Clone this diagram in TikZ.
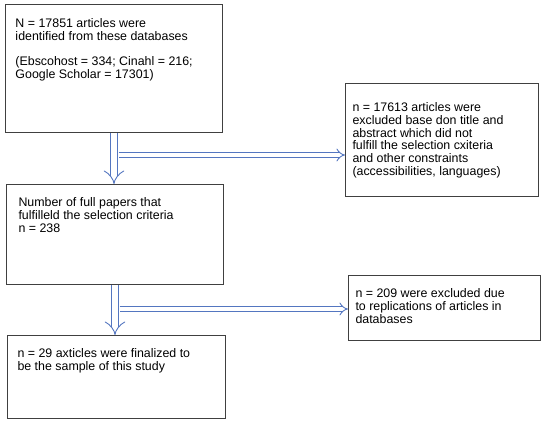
\documentclass[tikz,border=0pt]{standalone}
\usepackage{fontspec}
\setmainfont{Liberation Sans}
\usepackage{tikz}
\usetikzlibrary{arrows.meta, calc}
\definecolor{flowblue}{RGB}{84, 118, 192}
\definecolor{boxgray}{RGB}{64, 64, 64}

\begin{document}
\begin{tikzpicture}[
    x=1pt, y=-1pt,
    stage/.style={rectangle, draw=boxgray, line width=1pt, anchor=north west, inner ysep=13pt, font=\fontsize{12.4}{12.8}\selectfont},
    flow/.style={draw=flowblue, line width=0.9pt, double=white, double distance=6.5pt, -{Implies[scale=1.2]}},
    branch/.style={draw=flowblue, line width=0.9pt, double=white, double distance=3.6pt, -{Implies}}
]
    \useasboundingbox (0, 0) rectangle (544, 422);

    % Left column
    \node[stage, inner xsep=10pt, inner ysep=14pt] (found) at (5, 4)
        {\parbox[c][100pt][t]{197pt}{N = 17851 articles were\\ identified from these databases\\[12.8pt] (Ebscohost = 334; Cinahl = 216;\\ Google Scholar = 17301)}};
    \node[stage, inner xsep=12pt] (full) at (6, 184)
        {\parbox[c][74pt][t]{193pt}{Number of full papers that\\ fulfilleld the selection criteria\\ n = 238}};
    \node[stage, inner xsep=10pt] (final) at (7, 335)
        {\parbox[c][57pt][t]{198pt}{n = 29 axticles were finalized to\\ be the sample of this study}};

    % Right column
    \node[stage, inner xsep=7pt, inner ysep=19pt] (excl) at (345, 83)
        {\parbox[c][75pt][t]{179pt}{n = 17613 articles were\\ excluded base don title and\\ abstract which did not\\ fulfill the selection cxiteria\\ and other constraints\\ (accessibilities, languages)}};
    \node[stage, inner xsep=7pt] (repl) at (348, 275)
        {\parbox[c][39pt][t]{178pt}{n = 209 were excluded due\\ to replications of articles in\\ databases}};

    % Split points on the right side of each shaft
    \coordinate (split1) at ($(found.south) + (4.6, 22)$);
    \coordinate (split2) at ($(full.south) + (4.6, 24)$);

    % Arrows
    \draw[flow] (found.south) -- (found.south |- full.north);
    \draw[branch] (split1) -- (split1 -| excl.west);
    \draw[flow] (full.south) -- (full.south |- final.north);
    \draw[branch] (split2) -- (split2 -| repl.west);
\end{tikzpicture}
\end{document}
